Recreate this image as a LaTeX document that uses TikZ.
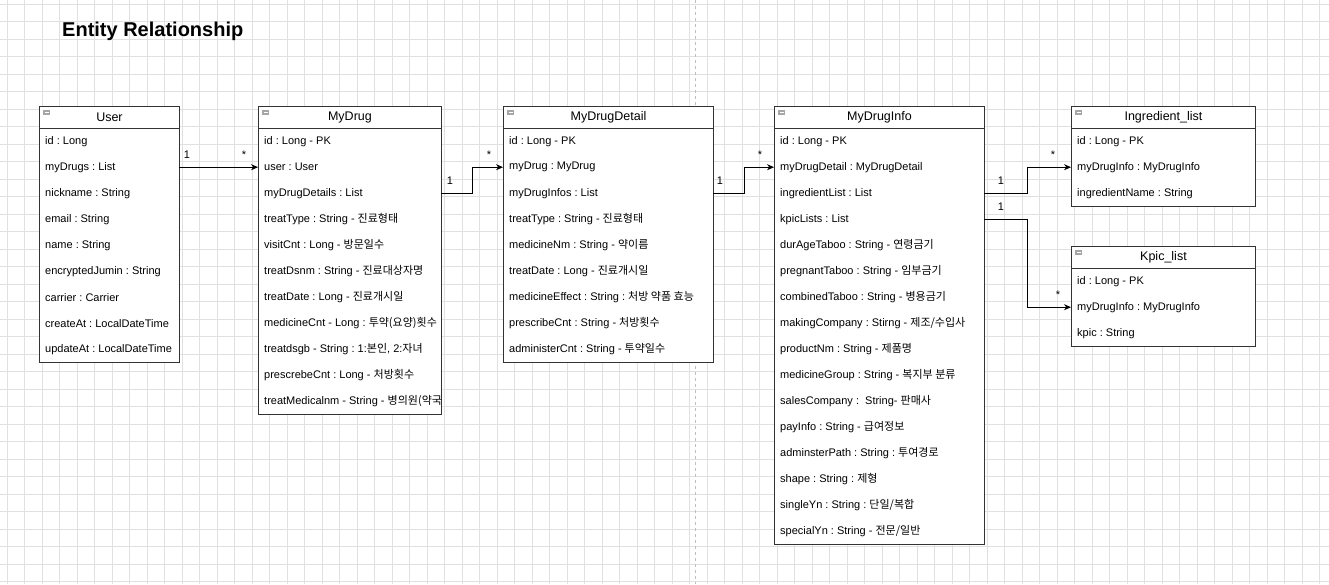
\documentclass[tikz,border=0pt]{standalone}
\usepackage{fontspec}
\setmainfont{Liberation Sans}
\newfontfamily\kr{Noto Sans CJK KR}
\frenchspacing
\usetikzlibrary{arrows.meta}
\tikzset{
  row/.style={anchor=north west, inner xsep=6pt, inner ysep=0pt, minimum height=26pt, font=\fontsize{11}{13}\selectfont},
  hdr/.style={draw=black!80, line width=0.9pt, anchor=north west, minimum height=22pt, inner sep=0pt, font=\fontsize{12.5}{14}\selectfont},
  box/.style={draw=black!80, line width=0.9pt},
  conn/.style={line width=0.8pt, -{Stealth[length=7pt,width=6pt]}},
  mult/.style={font=\fontsize{11}{13}\selectfont, inner sep=0pt},
}
\newcommand\entity[6]{%
  \draw[box, fill=white] (#2,#3) rectangle ++(#4,22+26*#6);
  \node[hdr, minimum width=#4pt] (#1) at (#2,#3) {#5};
  \fill[gray!70] (#2+4,#3+4) rectangle ++(7,5);
  \draw[white, line width=0.6pt] (#2+5.5,#3+6.5) -- ++(4,0);
}
\newcommand\rows[5]{%
  \foreach \t [count=\i] in {#5} {
    \node[row] (#1-\i) at (#2,#3+22+26*\i-26) {\makebox[\dimexpr#4pt-12pt\relax][l]{\t}};
  }
}
\begin{document}
\begin{tikzpicture}[x=1pt,y=-1pt]
\fill[white] (0,0) rectangle (1329,584);
\useasboundingbox (0,0) rectangle (1329,584);
\foreach \x in {7,24.5,...,1329} \draw[black!12, line width=0.7pt] (\x,0) -- (\x,584);
\foreach \y in {4,21.5,...,584} \draw[black!12, line width=0.7pt] (0,\y) -- (1329,\y);
\draw[black!25, dashed, line width=0.8pt] (695,0) -- (695,584);

\node[anchor=west, font=\fontsize{20}{24}\selectfont\bfseries, inner sep=0pt] (title) at (62,31) {Entity Relationship};

\entity{user}{39}{106}{140}{User}{9}
\rows{user}{39}{106}{140}{id : Long, myDrugs : List, nickname : String, email : String, name : String, encryptedJumin : String, carrier : Carrier, createAt : LocalDateTime, updateAt : LocalDateTime}

\entity{drug}{258}{106}{183}{MyDrug}{11}
\rows{drug}{258}{106}{183}{id : Long - PK, user : User, myDrugDetails : List, treatType : String - {\kr 진료형태}, visitCnt : Long - {\kr 방문일수}, treatDsnm : String - {\kr 진료대상자명}, treatDate : Long - {\kr 진료개시일}, medicineCnt - Long : {\kr 투약(요양)횟수}, {treatdsgb - String : 1:{\kr 본인}, 2:{\kr 자녀}}, prescrebeCnt : Long - {\kr 처방횟수}, treatMedicalnm - String - {\kr 병의원(약국}}

\entity{detail}{503}{106}{210}{MyDrugDetail}{9}
\rows{detail}{503}{106}{210}{id : Long - PK, myDrug : MyDrug, myDrugInfos : List, treatType : String - {\kr 진료형태}, medicineNm : String - {\kr 약이름}, treatDate : Long - {\kr 진료개시일}, medicineEffect : String : {\kr 처방 약품 효능}, prescribeCnt : String - {\kr 처방횟수}, administerCnt : String - {\kr 투약일수}}

\entity{info}{774}{106}{210}{MyDrugInfo}{16}
\rows{info}{774}{106}{210}{id : Long - PK, myDrugDetail : MyDrugDetail, ingredientList : List, kpicLists : List, durAgeTaboo : String - {\kr 연령금기}, pregnantTaboo : String - {\kr 임부금기}, combinedTaboo : String - {\kr 병용금기}, makingCompany : Stirng - {\kr 제조/수입사}, productNm : String - {\kr 제품명}, medicineGroup : String - {\kr 복지부 분류}, salesCompany :~ String- {\kr 판매사}, payInfo : String - {\kr 급여정보}, adminsterPath : String : {\kr 투여경로}, shape : String : {\kr 제형}, singleYn : String : {\kr 단일/복합}, specialYn : String - {\kr 전문/일반}}

\entity{ingr}{1071}{106}{184}{Ingredient\_list}{3}
\rows{ingr}{1071}{106}{184}{id : Long - PK, myDrugInfo : MyDrugInfo, ingredientName : String}

\entity{kpic}{1071}{246}{184}{Kpic\_list}{3}
\rows{kpic}{1071}{246}{184}{id : Long - PK, myDrugInfo : MyDrugInfo, kpic : String}

\draw[conn] (user-2.east) -- (drug-2.west);
\node[mult] (m1) at (187,155) {1};
\node[mult] (m2) at (244,155) {*};

\draw[conn] (drug-3.east) -- ++(31,0) |- (detail-2.west);
\node[mult] (m3) at (450,181) {1};
\node[mult] (m4) at (489,155) {*};

\draw[conn] (detail-3.east) -- ++(31,0) |- (info-2.west);
\node[mult] (m5) at (720,181) {1};
\node[mult] (m6) at (760,155) {*};

\draw[conn] (info-3.east) -- ++(43,0) |- (ingr-2.west);
\node[mult] (m7) at (1001,181) {1};
\node[mult] (m8) at (1053,155) {*};

\draw[conn] (info-4.east) -- ++(43,0) |- (kpic-2.west);
\node[mult] (m9) at (1001,207) {1};
\node[mult] (m10) at (1058,295) {*};
\end{tikzpicture}
\end{document}
